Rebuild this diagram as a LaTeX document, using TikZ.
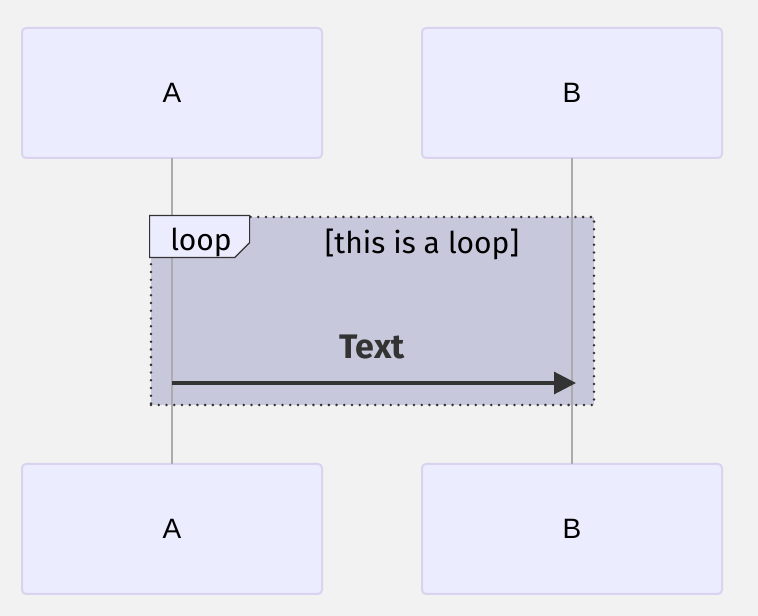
\documentclass[tikz,border=0pt]{standalone}
\usepackage{fontspec}
\setmainfont{Liberation Sans}
\newfontfamily\loopfont{Fira Sans}
\usetikzlibrary{positioning, arrows.meta}

\definecolor{bgcol}{HTML}{F2F2F2}
\definecolor{actorfill}{HTML}{ECECFF}
\definecolor{actorline}{HTML}{DAD3F0}
\definecolor{loopfill}{HTML}{C8C8DC}
\definecolor{darkline}{HTML}{333333}
\definecolor{lifecol}{HTML}{ABABAB}

\tikzset{
  actor/.style = {draw = actorline, fill = actorfill, line width = 1.5pt, rounded corners = 3pt, outer sep = 0pt,
    minimum width = 225pt, minimum height = 97.5pt, inner sep = 0pt, font = \fontsize{21}{25}\selectfont},
  lifeline/.style = {draw = lifecol, line width = 0.9pt},
  loopbox/.style = {draw = darkline, fill = loopfill, line width = 2.1pt, line cap = round,
    dash pattern = on 0pt off 5.8pt, minimum width = 332.25pt, minimum height = 141pt, inner sep = 0pt},
  looptext/.style = {font = \loopfont\fontsize{22.5}{26}\selectfont, text = black},
  msg/.style = {draw = darkline, line width = 2.3pt, -{Triangle[length = 16.5pt, width = 16.5pt]}}
}

\begin{document}
\begin{tikzpicture}[x = 0.75pt, y = -0.75pt]
  \fill[bgcol] (0,0) rectangle (758,616);
  \useasboundingbox (0,0) rectangle (758,616);

  % participants
  \node (topA) [actor] at (172,93) {A};
  \node (topB) [actor, right = 75pt of topA] {B};
  \node (botA) [actor, below = 229.5pt of topA] {A};
  \node (botB) [actor, below = 229.5pt of topB] {B};

  % loop frame
  \node (frame) [loopbox] at (372.5,311) {};

  \draw[lifeline] (topA) -- (botA);
  \draw[lifeline] (topB) -- (botB);

  \draw[draw = darkline, fill = actorfill, line width = 0.9pt]
    (frame.north west) -- ++(100,0) -- ++(0,27) -- ++(-15,15) -- ++(-85,0) -- cycle;
  \node (looplabel) [looptext] at (201,242) {loop};
  \node (loopcond) [looptext] at (422,244) {[this is a loop]};

  % message
  \coordinate (msgstart) at (topA |- 0,383);
  \coordinate (msgend) at (576,383);
  \draw[msg] (msgstart) -- (msgend);
  \node (msglabel) [font = \loopfont\bfseries\fontsize{25.5}{29}\selectfont, text = darkline] at (372,347) {Text};
\end{tikzpicture}
\end{document}
